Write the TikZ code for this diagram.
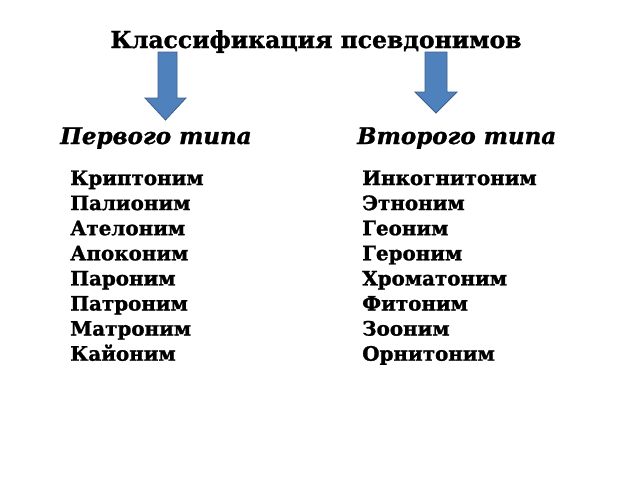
\documentclass[tikz,border=0pt]{standalone}
\usepackage{fontspec}
\setmainfont{DejaVu Serif}[BoldFeatures={FakeBold=1.2},BoldItalicFeatures={FakeBold=1.2}]
\definecolor{arrowblue}{RGB}{79,129,189}
\definecolor{arrowedge}{RGB}{60,96,140}
\begin{document}
\begin{tikzpicture}[x=0.75pt,y=-0.75pt,
    title/.style={anchor=base,inner sep=0pt,font=\fontsize{17.6}{20}\selectfont\bfseries},
    head/.style={anchor=base west,inner sep=0pt,font=\fontsize{17.2}{20}\selectfont\bfseries\itshape},
    item/.style={anchor=base west,inner sep=0pt,font=\fontsize{14.9}{17}\selectfont\bfseries},
    block arrow/.style={fill=arrowblue,draw=arrowedge,line width=0.6pt}]
  \useasboundingbox (0,0) rectangle (640,480);
  \fill[white] (0,0) rectangle (640,480);%background
  \draw[block arrow] (158,52) -- (177,52) -- (177,98) -- (186,98) -- (165.5,120) -- (145,98) -- (158,98) -- cycle;%left arrow
  \draw[block arrow] (425,52) -- (447,52) -- (447,92) -- (457,92) -- (436,113) -- (415,92) -- (425,92) -- cycle;%right arrow
  \node[title] (title) at (316,48) {Классификация псевдонимов};
  \node[head] (first) at (60,144) {Первого типа};
  \node[head] (second) at (357,144) {Второго типа};
  % first column
  \foreach \word [count=\i from 0] in {Криптоним,Палионим,Ателоним,Апоконим,Пароним,Патроним,Матроним,Кайоним}
    \node[item] (first-\i) at (70,185+25.1*\i) {\word};
  % second column
  \foreach \word [count=\i from 0] in {Инкогнитоним,Этноним,Геоним,Героним,Хроматоним,Фитоним,Зооним,Орнитоним}
    \node[item] (second-\i) at (362,185+25.1*\i) {\word};
\end{tikzpicture}
\end{document}
